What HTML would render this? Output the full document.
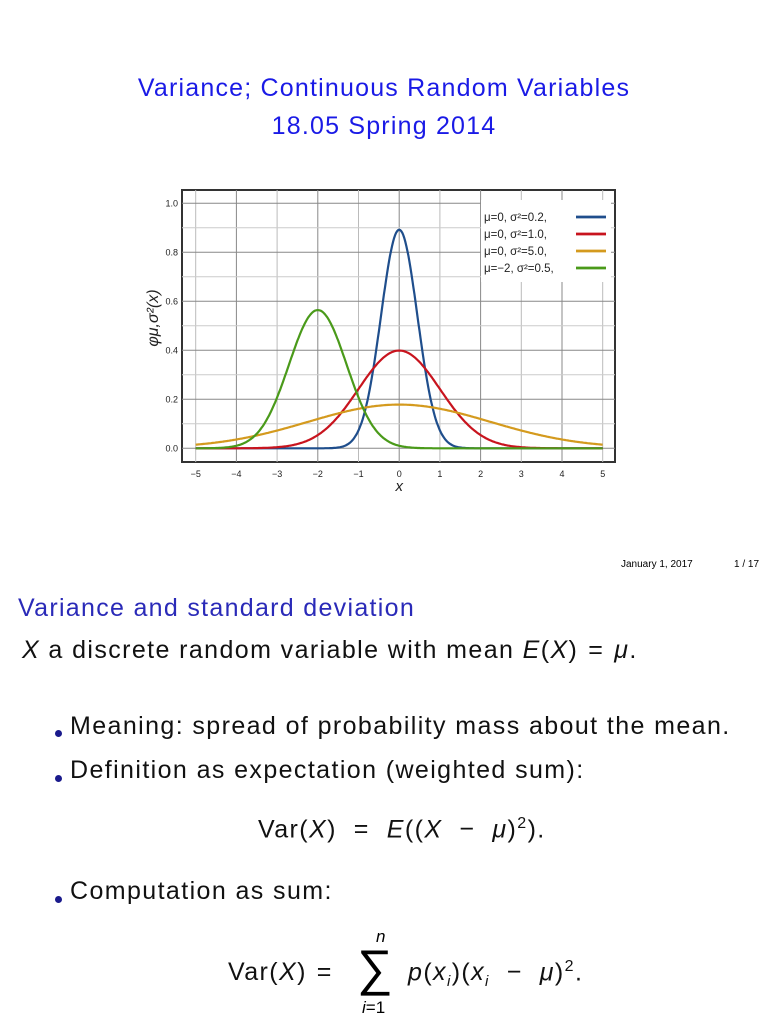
<!DOCTYPE html>
<html><head><meta charset="utf-8"><style>
body{margin:0;width:768px;height:1024px;background:#fff;position:relative;overflow:hidden;font-family:"Liberation Sans","DejaVu Sans",sans-serif}
.t{position:absolute;white-space:nowrap}
.blue{color:#1a1ae6;letter-spacing:1.2px}
.body{font-size:25px;color:#111;letter-spacing:1.4px}
i{font-style:italic}
.op{margin:0 10px}
.op2{margin:0 17px}
.dot{position:absolute;width:7px;height:7px;border-radius:50%;background:#1a1a8c}
</style></head><body>
<div class="t blue" style="left:0;width:768px;text-align:center;top:74px;font-size:25px">Variance; Continuous Random Variables</div>
<div class="t blue" style="left:0;width:768px;text-align:center;top:112px;font-size:25px">18.05 Spring 2014</div>

<svg id="chart" style="position:absolute;left:140px;top:186px" width="480" height="310"></svg>

<div class="t" style="left:621px;top:559px;font-size:10px">January 1, 2017</div>
<div class="t" style="left:734px;top:559px;font-size:10px">1 / 17</div>

<div class="t blue" style="left:18px;top:594px;font-size:25px;color:#2a2ab8;letter-spacing:1.3px">Variance and standard deviation</div>
<div class="t body" style="left:22px;top:636px"><i>X</i> a discrete random variable with mean <i>E</i>(<i>X</i>)<span class="op">=</span><i>μ</i>.</div>
<div class="dot" style="left:55px;top:730px"></div>
<div class="t body" style="left:70px;top:712px">Meaning: spread of probability mass about the mean.</div>
<div class="dot" style="left:55px;top:775px"></div>
<div class="t body" style="left:70px;top:756px">Definition as expectation (weighted sum):</div>
<div class="t body" style="left:258px;top:815px">Var(<i>X</i>)<span class="op2">=</span><i>E</i>((<i>X</i><span class="op2">−</span><i>μ</i>)<sup style="font-size:16px">2</sup>).</div>
<div class="dot" style="left:55px;top:896px"></div>
<div class="t body" style="left:70px;top:877px">Computation as sum:</div>
<div class="t body" style="left:228px;top:958px">Var(<i>X</i>)<span class="op">=</span></div>
<div class="t" style="left:376px;top:927px;font-size:17px"><i>n</i></div>
<div class="t" style="left:357px;top:943px;font-size:50px;line-height:50px">∑</div>
<div class="t" style="left:362px;top:998px;font-size:17px"><i>i</i>=1</div>
<div class="t body" style="left:408px;top:958px"><i>p</i>(<i>x<sub style="font-size:15px">i</sub></i>)(<i>x<sub style="font-size:15px">i</sub></i><span class="op2">−</span><i>μ</i>)<sup style="font-size:16px">2</sup>.</div>

<script>
const means=[0,0,0,-2];
const variances=[0.2,1.0,5.0,0.5];
const colors=["#1f4e8c","#c8141e","#d49a1e","#4a9a1a"];
const legendLabels=["μ=0,   σ²=0.2,","μ=0,   σ²=1.0,","μ=0,   σ²=5.0,","μ=−2, σ²=0.5,"];
const xTicks=[-5,-4,-3,-2,-1,0,1,2,3,4,5];
const yTicks=[0.0,0.2,0.4,0.6,0.8,1.0];
const NS="http://www.w3.org/2000/svg";
const svg=document.getElementById('chart');
const X=v=>55.7+(v+5)*40.7;
const Y=v=>262.3-v*245;
function mk(tag,attrs,parent){const e=document.createElementNS(NS,tag);for(const k in attrs)e.setAttribute(k,attrs[k]);(parent||svg).appendChild(e);return e;}
const frame=mk('rect',{x:42,y:4,width:433,height:272,fill:'#fff',stroke:'#333','stroke-width':2});


for(let v=-5;v<=5;v++){const g=mk('line',{x1:X(v),x2:X(v),y1:4,y2:276,stroke:v%2===0?'#888':'#bbb','stroke-width':1});

}
for(let v=0;v<=1.001;v+=0.1){const g=mk('line',{x1:42,x2:475,y1:Y(v),y2:Y(v),stroke:Math.round(v*10)%2===0?'#888':'#ccc','stroke-width':1});

}
xTicks.forEach(v=>{const t=mk('text',{x:X(v),y:291,'font-size':9,'text-anchor':'middle',fill:'#222'});t.textContent=(v<0?'−':'')+Math.abs(v);

});
yTicks.forEach(v=>{const t=mk('text',{x:38,y:Y(v)+3,'font-size':9,'text-anchor':'end',fill:'#222'});t.textContent=v.toFixed(1);

});
const xl=mk('text',{x:X(0),y:305,'font-size':15,'font-style':'italic','text-anchor':'middle',fill:'#222'});xl.textContent='x';


const yl=mk('text',{x:0,y:0,'font-size':16,'font-style':'italic','text-anchor':'middle',fill:'#222',transform:'translate(18,132) rotate(-90)'});yl.textContent='φμ,σ²(x)';


means.forEach((m,i)=>{const s=variances[i];let d='';
for(let k=0;k<=400;k++){const x=-5+k*0.025;const y=Math.exp(-(x-m)*(x-m)/(2*s))/Math.sqrt(2*Math.PI*s);d+=(k?'L':'M')+X(x).toFixed(1)+','+Y(y).toFixed(1);}
const p=mk('path',{d:d,fill:'none',stroke:colors[i],'stroke-width':2.2});

});
const lg=mk('rect',{x:341,y:14,width:130,height:82,fill:'#fff'});


legendLabels.forEach((l,i)=>{const y=31+i*17;const t=mk('text',{x:344,y:y+4,'font-size':11.5,fill:'#222','xml:space':'preserve'});t.textContent=l;


const ln=mk('line',{x1:436,x2:466,y1:y,y2:y,stroke:colors[i],'stroke-width':2.8});

});
</script>
</body></html>
